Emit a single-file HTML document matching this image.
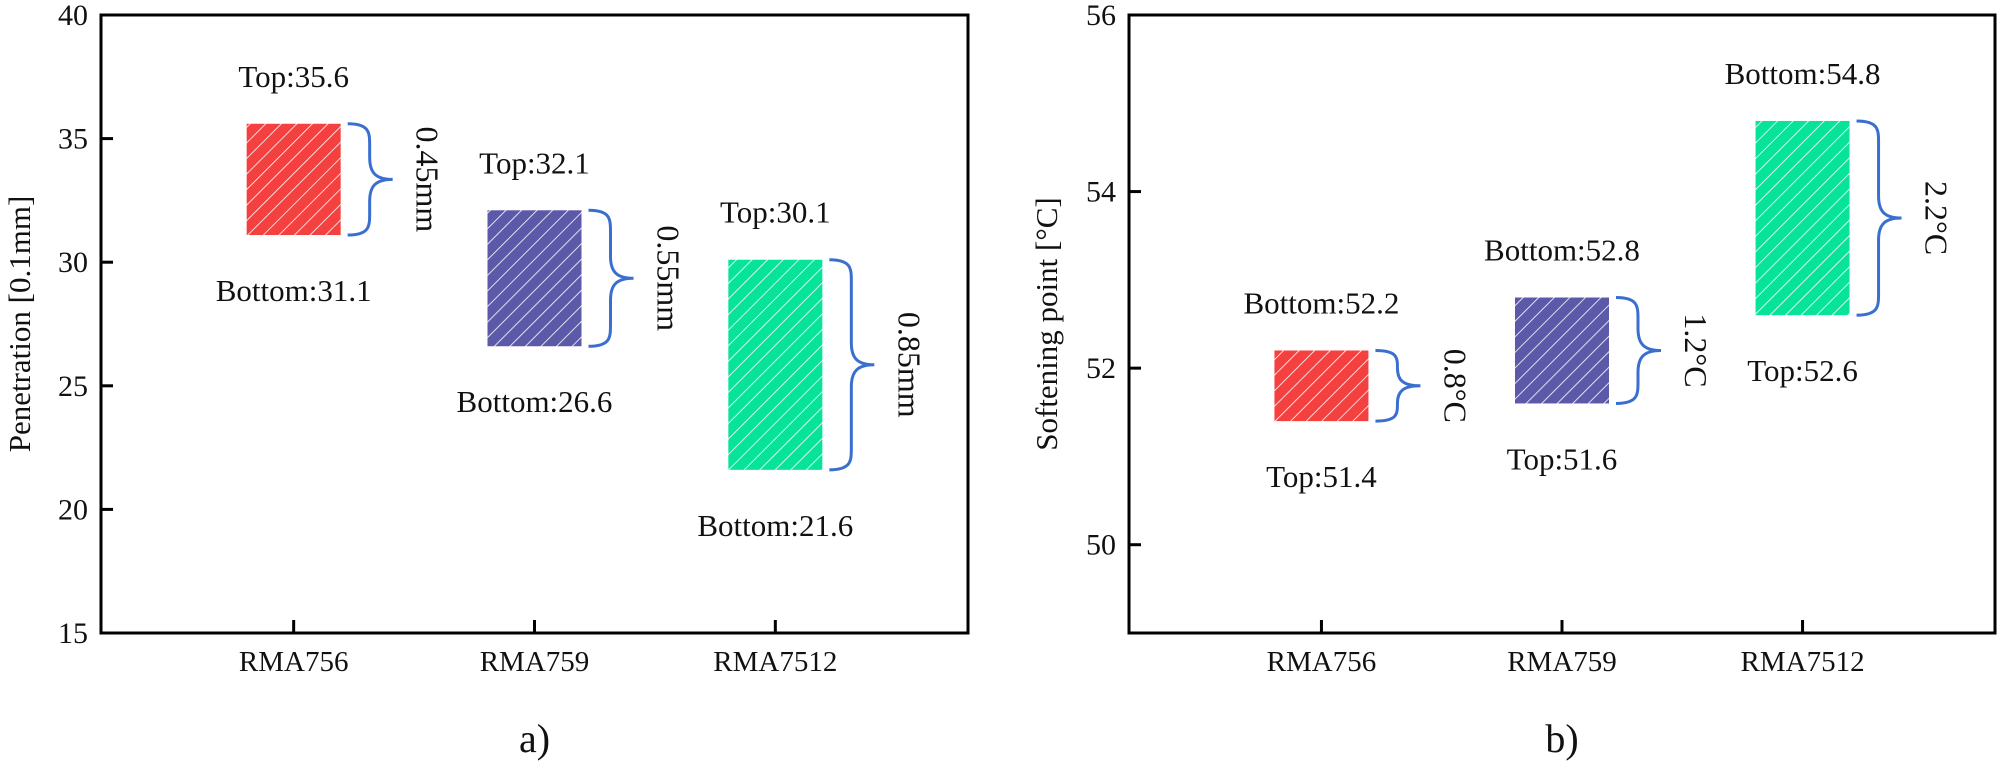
<!DOCTYPE html>
<html><head><meta charset="utf-8">
<style>
html,body{margin:0;padding:0;background:#fff;}
svg{display:block;}
text{font-family:"Liberation Serif","DejaVu Serif",serif;fill:#111;}
</style></head>
<body>
<svg id="fig" width="2000" height="766" viewBox="0 0 2000 766" xmlns="http://www.w3.org/2000/svg">
<defs>
<pattern id="h-red" patternUnits="userSpaceOnUse" width="11" height="11" patternTransform="rotate(45)">
<rect width="11" height="11" fill="#f4403e"/><line x1="0" y1="0" x2="0" y2="11" stroke="#fff" stroke-width="1.6"/></pattern>
<pattern id="h-purple" patternUnits="userSpaceOnUse" width="11" height="11" patternTransform="rotate(45)">
<rect width="11" height="11" fill="#5c5aa8"/><line x1="0" y1="0" x2="0" y2="11" stroke="#fff" stroke-width="1.6"/></pattern>
<pattern id="h-green" patternUnits="userSpaceOnUse" width="11" height="11" patternTransform="rotate(45)">
<rect width="11" height="11" fill="#08e39a"/><line x1="0" y1="0" x2="0" y2="11" stroke="#fff" stroke-width="1.6"/></pattern>
</defs>
</svg>
<script>
// Chart a) data
const penCategories = ["RMA756","RMA759","RMA7512"];
const penTop = [35.6, 32.1, 30.1];
const penBottom = [31.1, 26.6, 21.6];
const penDiff = ["0.45mm","0.55mm","0.85mm"];
const penTicks = [15,20,25,30,35,40];
// Chart b) data
const softCategories = ["RMA756","RMA759","RMA7512"];
const softTop = [51.4, 51.6, 52.6];
const softBottom = [52.2, 52.8, 54.8];
const softDiff = ["0.8°C","1.2°C","2.2°C"];
const softTicks = [50,52,54,56];

const NS = "http://www.w3.org/2000/svg";
const svg = document.getElementById('fig');
const fills = ["url(#h-red)","url(#h-purple)","url(#h-green)"];
const barNames = ["red","purple","green"];

function mk(tag, attrs, parent, txt){
  const e = document.createElementNS(NS, tag);
  for (const k in attrs) e.setAttribute(k, attrs[k]);
  if (txt !== undefined) e.textContent = txt;
  (parent||svg).appendChild(e);
  return e;
}

function drawChart(o){
  const g = mk('g', {});
  
  
  const L=o.left, R=o.right, T=15, B=633;
  const y = v => B - (v - o.yMin)/(o.yMax - o.yMin)*(B - T);
  const x = i => L + (R - L)*(i + 0.8)/3.6;
  o.ticks.forEach(t=>{
    const tk = mk('line',{x1:L,x2:L+12,y1:y(t),y2:y(t),stroke:'#000','stroke-width':3},g);
    
    
    const tl = mk('text',{x:L-13,y:y(t)+10,'text-anchor':'end','font-size':30},g,String(t));
    
    
  });
  o.cats.forEach((c,i)=>{
    const tk = mk('line',{x1:x(i),x2:x(i),y1:B,y2:B-13,stroke:'#000','stroke-width':3},g);
    
    
    const tl = mk('text',{x:x(i),y:B+38,'text-anchor':'middle','font-size':29},g,c);
    
    
  });
  const bw = 94;
  o.top.forEach((tv,i)=>{
    const bv = o.bottom[i];
    const hi = Math.max(tv,bv), lo = Math.min(tv,bv);
    const y1 = y(hi), y2 = y(lo), cx = x(i);
    const r = mk('rect',{x:cx-bw/2,y:y1,width:bw,height:y2-y1,fill:fills[i]},g);
    
    
    const upPre = tv>bv ? o.topName : o.botName;
    const loPre = tv>bv ? o.botName : o.topName;
    const ut = mk('text',{x:cx,y:y1-37,'text-anchor':'middle','font-size':31},g,upPre+':'+hi.toFixed(1));
    
    
    const lt = mk('text',{x:cx,y:y2+66,'text-anchor':'middle','font-size':31},g,loPre+':'+lo.toFixed(1));
    
    
    const x0 = cx+bw/2+7, xm = x0+22, xt = x0+45, mid=(y1+y2)/2;
    const rr = Math.min(22,(y2-y1)/4);
    const d = `M${x0},${y1} C${xm},${y1} ${xm},${y1+rr*0.4} ${xm},${y1+rr} L${xm},${mid-rr} C${xm},${mid-rr*0.3} ${xm+6},${mid} ${xt},${mid} `+
              `C${xm+6},${mid} ${xm},${mid+rr*0.3} ${xm},${mid+rr} L${xm},${y2-rr} C${xm},${y2-rr*0.4} ${xm},${y2} ${x0},${y2}`;
    const br = mk('path',{d:d,fill:'none',stroke:'#3a6fd0','stroke-width':3},g);
    
    
    const dx = cx+bw/2+76;
    const dl = mk('text',{x:dx,y:mid,'text-anchor':'middle','font-size':32,transform:`rotate(90 ${dx} ${mid})`},g,o.diff[i]);
    
    
  });
  const fr = mk('rect',{x:L,y:T,width:R-L,height:B-T,fill:'none',stroke:'#000','stroke-width':3},g);
  
  
  const yt = mk('text',{x:o.titleX,y:324,'text-anchor':'middle','font-size':31,transform:`rotate(-90 ${o.titleX} 324)`},g,o.yTitle);
  
  
  const pl = mk('text',{x:(L+R)/2,y:752,'text-anchor':'middle','font-size':40},g,o.panel);
  
  
}

drawChart({name:'penetration-chart',left:101,right:968,yMin:15,yMax:40,ticks:penTicks,cats:penCategories,
  top:penTop,bottom:penBottom,diff:penDiff,topName:'Top',botName:'Bottom',yTitle:'Penetration [0.1mm]',titleX:30,panel:'a)'});
drawChart({name:'softening-point-chart',left:1129,right:1995,yMin:49,yMax:56,ticks:softTicks,cats:softCategories,
  top:softTop,bottom:softBottom,diff:softDiff,topName:'Top',botName:'Bottom',yTitle:'Softening point [°C]',titleX:1057,panel:'b)'});
</script>
</body></html>
